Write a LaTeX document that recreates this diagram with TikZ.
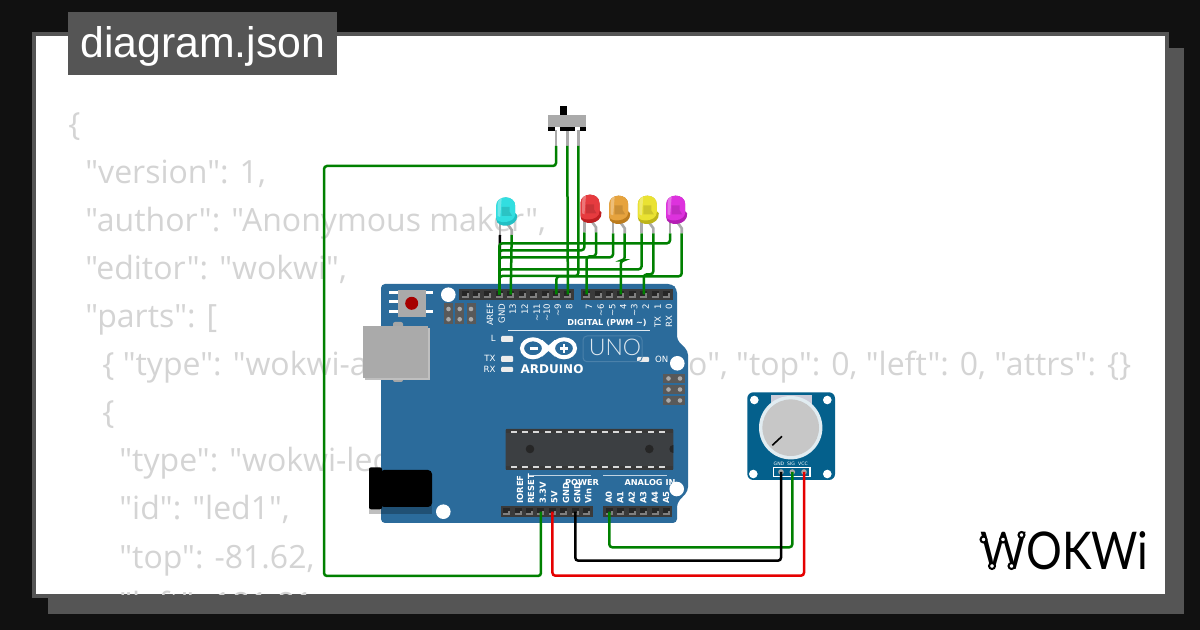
\documentclass[tikz,border=0pt]{standalone}
\usepackage{fontspec}
\setmainfont{Liberation Sans}
\newfontfamily\jsonfont{Open Sans}[Ligatures=TeXOff]
\newfontfamily\boardfont{DejaVu Sans}
\newfontfamily\logofont{Lato}
\newfontfamily\unofont{Lato Light}
\definecolor{pagedark}{HTML}{111111}
\definecolor{framegray}{HTML}{555555}
\definecolor{jsongray}{HTML}{D4D4D4}
\definecolor{boardblue}{HTML}{2B6B9B}
\definecolor{headerdark}{HTML}{3A3A3A}
\definecolor{chipdark}{HTML}{3C3F42}
\definecolor{potblue}{HTML}{04608C}
\definecolor{wiregreen}{HTML}{008000}
\definecolor{legray}{HTML}{AAAAAA}
\definecolor{cyanbody}{HTML}{32DEE0}
\definecolor{cyanrim}{HTML}{22BFC4}
\definecolor{redbody}{HTML}{E63B3F}
\definecolor{redrim}{HTML}{BE1F22}
\definecolor{orangebody}{HTML}{E6A33E}
\definecolor{orangerim}{HTML}{BC7C1E}
\definecolor{yellowbody}{HTML}{EAE232}
\definecolor{yellowrim}{HTML}{BDB41A}
\definecolor{magentabody}{HTML}{DD32DD}
\definecolor{magentarim}{HTML}{B31FB3}
\tikzset{
  jsonline/.style={anchor=base west,inner sep=0,text=jsongray,font=\jsonfont\fontsize{16}{18}\selectfont},
  toplabel/.style={rotate=90,anchor=east,inner sep=0,text=white,font=\boardfont\fontsize{4.3}{5}\selectfont},
  botlabel/.style={rotate=90,anchor=west,inner sep=0,text=white,font=\boardfont\bfseries\fontsize{4.2}{5}\selectfont},
  sidelabel/.style={inner sep=0,text=white,font=\boardfont\fontsize{4.3}{5}\selectfont},
  boldlabel/.style={inner sep=0,text=white,font=\boardfont\bfseries\fontsize{4.1}{5}\selectfont},
  potlabel/.style={inner sep=0,text=white,font=\boardfont\fontsize{2.3}{3}\selectfont},
  wire/.style={line width=1.25pt,rounded corners=1.5pt,wiregreen},
  smallled/.style={fill=white!85!gray,rounded corners=.5pt},
  hole/.style={fill=white}
}
% strip of header pins: first x, y, number of pins, name
\newcommand{\headerstrip}[4]{
  \fill[headerdark] ({#1-6},{#2-5.5}) rectangle ({#1+11.43*(#3-1)+6},{#2+5.5});
  \foreach \i in {1,...,#3} {
    \pgfmathsetmacro{\px}{#1+11.43*(\i-1)}
    \fill[black!85] ({\px-3.5},{#2-3.5}) rectangle ({\px+3.5},{#2+3.5});
    \fill[black!50] ({\px-3.5},{#2+1.5}) rectangle ({\px+3.5},{#2+3.5});
    \fill[black!50] ({\px+1.5},{#2-1}) rectangle ({\px+3.5},{#2+3.5});
    \coordinate (#4\i) at (\px,#2);
  }
}
% one led: centre x, top y, body colour, rim colour, name
\newcommand{\ledpart}[5]{
  \draw[legray,line width=1.3pt] (#1-5.7,#2+27) -- (#1-5.7,#2+39) coordinate (#5k);
  \draw[legray,line width=1.3pt] (#1+1,#2+27) -- (#1+6,#2+34) -- (#1+6,#2+39) coordinate (#5a);
  \fill[#4] (#1-9.5,#2+10) .. controls (#1-9.5,#2-1.5) and (#1+9.5,#2-1.5) .. (#1+9.5,#2+10) -- (#1+9.5,#2+17) -- (#1+11.5,#2+19)
    .. controls (#1+12.5,#2+32) and (#1-9.5,#2+33) .. (#1-9.5,#2+23) -- cycle;
  \fill[#3] (#1-9.5,#2+10) .. controls (#1-9.5,#2-1.5) and (#1+9.5,#2-1.5) .. (#1+9.5,#2+10) -- (#1+9.5,#2+18)
    .. controls (#1+9.5,#2+28) and (#1-9.5,#2+28) .. (#1-9.5,#2+22) -- cycle;
  \fill[white,opacity=.3] (#1-8,#2+9) .. controls (#1-8,#2+3) and (#1-5,#2+2) .. (#1-4,#2+2) -- (#1-5.5,#2+21) -- (#1-8,#2+20) -- cycle;
  \fill[black,opacity=.12] (#1-4,#2+11) -- (#1+4,#2+11) -- (#1+4,#2+16) -- (#1+6.5,#2+20) -- (#1-4,#2+20) -- cycle;
}
\begin{document}
\begin{tikzpicture}[x=.5pt,y=-.5pt]
\useasboundingbox (0,0) rectangle (1200,630);
% Page, shadow and white panel
\fill[pagedark] (0,0) rectangle (1200,630);
\fill[framegray] (48,48) rectangle (1184,614);
\fill[framegray] (32,32) rectangle (1169,598);
\fill[white] (36,36) rectangle (1165,594);
% The json text behind the parts
\begin{scope}
\clip (36,36) rectangle (1165,594);
\node[jsonline] (line1) at (68,136) {\{};
\node[jsonline] (line2) at (85,184) {"version": 1,};
\node[jsonline] (line3) at (85,232) {"author": "Anonymous maker",};
\node[jsonline] (line4) at (85,280) {"editor": "wokwi",};
\node[jsonline] (line5) at (85,328) {"parts": [};
\node[jsonline] (line6) at (102,376) {\{ "type": "wokwi-arduino-uno", "id": "uno", "top": 0, "left": 0, "attrs": \{\}};
\node[jsonline] (line7) at (102,424) {\{};
\node[jsonline] (line8) at (119,472) {"type": "wokwi-led",};
\node[jsonline] (line9) at (119,520) {"id": "led1",};
\node[jsonline] (line10) at (119,568) {"top": -81.62,};
\node[jsonline] (line11) at (119,616) {"left": 181.81};
\end{scope}
% Title tab
\fill[framegray] (68,12) rectangle (337,75);
\node[inner sep=0,anchor=base west,text=white,font=\fontsize{21.4}{24}\selectfont] (title) at (80,58) {diagram.json};
% Board outline
\fill[boardblue,rounded corners=2pt] (381,284) -- (672,284) -- (677,289) -- (677,340) -- (688,351) -- (688,491) -- (677,503) -- (677,523) -- (381,523) -- cycle;
% USB socket
\fill[black!35,rounded corners=1pt] (393,322) rectangle (403,382);
\fill[black!25] (365,328) rectangle (430,380);
\fill[legray] (363,326) rectangle (428,378);
% Reset button
\foreach \y in {292.5,301.5,312} {
  \fill[white] (389,\y-1.5) rectangle (398,\y+1.5);
}
\foreach \y in {292.5,312} {
  \fill[white] (425,\y-1.5) rectangle (433,\y+1.5);
}
\fill[legray] (398,290) rectangle (426,317);
\fill[red!65!black] (411.7,303.3) circle (6.5);
% Mount holes
\fill[hole] (448.3,294.7) circle (7.3);
\fill[hole] (677.3,363.3) circle (7.3);
\fill[hole] (443.3,511.7) circle (7.3);
\fill[hole] (676.7,489) circle (7.3);
% Pin headers
\headerstrip{465}{294.5}{10}{dl}
\headerstrip{586.7}{294.5}{8}{dr}
\headerstrip{506.7}{511.7}{8}{pw}
\headerstrip{609.3}{511.7}{6}{an}
% Small pin blocks
\foreach \x in {448.5,459.7,471} {
  \fill[black!65] (\x-4.5,303) rectangle (\x+4.5,324);
  \fill[legray] (\x,309) circle (2.3);
  \fill[legray] (\x,319.3) circle (2.3);
}
\foreach \y in {378.5,389.5,400.5} {
  \fill[black!65] (663,\y-4.5) rectangle (685,\y+4.5);
  \fill[legray] (668.5,\y) circle (2.3);
  \fill[legray] (680,\y) circle (2.3);
}
% Top labels
\foreach \x/\t in {490/AREF,501.7/GND,512.7/13,524.7/12,536.7/\textasciitilde 11,546.7/\textasciitilde 10,557.7/\textasciitilde 9,569.3/8,589/7,600.7/\textasciitilde 6,612.3/\textasciitilde 5,623.3/4,634.3/\textasciitilde 3,645.7/2,657.7/1,669/0} {
  \node[toplabel] at (\x,303.3) {\t};
}
\node[toplabel,anchor=west] (txlabel) at (657.7,328) {TX};
\node[toplabel,anchor=west] (rxlabel) at (669,328) {RX};
\node[boldlabel] (digital) at (607,323) {DIGITAL (PWM \textasciitilde)};
\draw[white!85!boardblue,line width=.5pt] (507.7,330.7) -- (650,330.7);
% Status leds
\fill[smallled] (501,336) rectangle (513,342);
\fill[smallled] (501,356) rectangle (513,362);
\fill[smallled] (501,367) rectangle (513,372);
\fill[smallled] (637,357) rectangle (649,362);
\node[sidelabel] (llabel) at (493.3,338.7) {L};
\node[sidelabel,anchor=east] (txled) at (496,358.7) {TX};
\node[sidelabel,anchor=east] (rxled) at (496,369.3) {RX};
\node[sidelabel] (onlabel) at (661.7,359) {ON};
% Logo
\draw[white,line width=2pt] (533,348.3) ellipse (11 and 9);
\draw[white,line width=2pt] (564,348.3) ellipse (11 and 9);
\draw[white,line width=2pt] (541,341.5) -- (556,355) (541,355) -- (556,341.5);
\fill[white] (530,347.3) rectangle (538,349.7);
\fill[white] (560,347.3) rectangle (568,349.7);
\fill[white] (562.8,344.3) rectangle (565.2,352.7);
\node[inner sep=0,text=white,font=\boardfont\bfseries\fontsize{6}{8}\selectfont] (arduino) at (552,369.3) {ARDUINO};
\draw[white!15!boardblue,line width=.5pt,rounded corners=2pt] (583,336) rectangle (642,361.7);
\node[inner sep=0,text=white!85!boardblue,font=\unofont\fontsize{11.5}{14}\selectfont] (uno) at (615,347) {UNO};
% Chip
\fill[chipdark,rounded corners=.5pt] (505.7,429) rectangle (673.3,470);
\fill[black!78] (505.7,429) rectangle (673.3,433.5);
\fill[black!78] (505.7,466) rectangle (673.3,470);
\foreach \i in {0,...,13} {
  \fill[white!85!black] (510.5+11.43*\i,430.7) rectangle (516.5+11.43*\i,432.7);
  \fill[white!85!black] (510.5+11.43*\i,466.3) rectangle (516.5+11.43*\i,468.3);
}
\fill[black!85] (530,449) circle (4.3);
\fill[black!85] (649.3,449) circle (4.3);
\fill[black!85] (673.3,445) arc (270:90:4) -- cycle;
% Power jack
\fill[black,opacity=.25] (369,480) rectangle (432,514);
\fill[black,rounded corners=1pt] (369,467.3) rectangle (382,509.3);
\fill[black,rounded corners=2pt] (380,470) rectangle (432,507);
% Bottom labels
\foreach \x/\t in {520/IOREF,531/RESET,542.7/3.3V,554.3/5V,566/GND,577.3/GND,588.3/Vin,608.7/A0,620.3/A1,631.7/A2,643.3/A3,654.7/A4,666/A5} {
  \node[botlabel] at (\x,504) {\t};
}
\node[boldlabel] (powerlabel) at (582,482.7) {POWER};
\node[boldlabel] (analoglabel) at (650,482.7) {ANALOG IN};
\draw[white!70!boardblue,line width=.5pt] (533,475.7) -- (590.7,475.7);
\draw[white!70!boardblue,line width=.5pt] (603,475.7) -- (666.7,475.7);
% Slide switch
\fill[black] (560,106) rectangle (567,115);
\foreach \x in {556,567.3,578.3} {
  \draw[legray,line width=1.3pt] (\x,130) -- (\x,146);
}
\fill[legray] (548.3,115) rectangle (586,126.7);
\fill[black] (548.3,126.7) rectangle (555,130.7);
\fill[black] (560,126.7) rectangle (575,130.7);
\fill[black] (579.5,126.7) rectangle (586,130.7);
\coordinate (swa) at (556,146);
\coordinate (swb) at (567.3,146);
\coordinate (swc) at (578.3,146);
% Leds
\ledpart{505.7}{196}{cyanbody}{cyanrim}{ledc}
\ledpart{590}{193.3}{redbody}{redrim}{ledr}
\ledpart{618.7}{194.3}{orangebody}{orangerim}{ledo}
\ledpart{647.3}{194.3}{yellowbody}{yellowrim}{ledy}
\ledpart{675.7}{194.3}{magentabody}{magentarim}{ledm}
% Potentiometer
\fill[potblue,rounded corners=3pt] (747.3,392.3) rectangle (835,480);
\foreach \x/\y in {754.3/400,827.3/400,753.3/474,827.3/474} {
  \fill[hole] (\x,\y) circle (4.3);
}
\fill[blue!15!gray!35!white] (771,395) rectangle (811.7,405);
\fill[white!88!potblue] (790.7,427.7) circle (31.7);
\fill[black!22] (790.7,427.7) circle (28.3);
\draw[black,line width=.8pt] (772.3,445.3) -- (782,436.3);
\draw[white,line width=.6pt] (773.3,467.3) rectangle (810,476.7);
\coordinate (potgnd) at (781,472);
\coordinate (potsig) at (792.3,472);
\coordinate (potvcc) at (804,472);
\foreach \p in {potgnd,potsig,potvcc} {
  \fill[legray] (\p) circle (2.8);
}
\node[potlabel] (gndlabel) at (779,464) {GND};
\node[potlabel] (siglabel) at (791,464) {SIG};
\node[potlabel] (vcclabel) at (803,464) {VCC};
% Wires to the ground pin
\draw[wire,black] (ledck) -- (dl4);
\draw[wire] (ledmk) -- ++(0,10) -| (dl4);
\draw[wire] (ledrk) -- ++(0,18) -| (dl4);
\draw[wire] (ledok) -- ++(0,24) -| (dl4);
\draw[wire] (ledyk) -- ++(0,36) -| (dl4);
% Wires from the switch
\draw[wire] (swc) -- ++(0,130) -| (dl4);
\draw[wire] (swb) -- (dl10);
\coordinate (railn) at (324,166);
\coordinate (rails) at (324,576);
\draw[wire] (swa) |- (railn) -- (rails) -| (pw4);
% Wires to the signal pins
\draw[wire] (ledca) -- (dl5);
\draw[wire] (ledra) -- ++(0,24) -| (dr1);
\draw[wire] (ledoa) -- ++(0,27) -| (dr4);
\draw[wire] (ledya) -- ++(0,41) -| (dr6);
\draw[wire] (ledma) -- ++(0,43) -| (dl9);
% Wires to the potentiometer
\draw[wire] (an1) -- ++(0,35.6) -| (potsig);
\draw[wire,black] (pw7) -- ++(0,49) -| (potgnd);
\draw[wire,red!90!black] (pw5) -- ++(0,64) -| (potvcc);
% Wokwi mark
\node[inner sep=0,anchor=base west,text=black,font=\logofont\fontsize{26}{28}\selectfont] (wokwi) at (980,569) {\scalebox{.86}[1]{WOKWi}};
\foreach \x/\y in {983.5/539.5,1003/539.5,1021.5/535,992/566,1011.5/566} {
  \filldraw[fill=white,draw=black,line width=1pt] (\x,\y) circle (3);
}
\end{tikzpicture}
\end{document}
